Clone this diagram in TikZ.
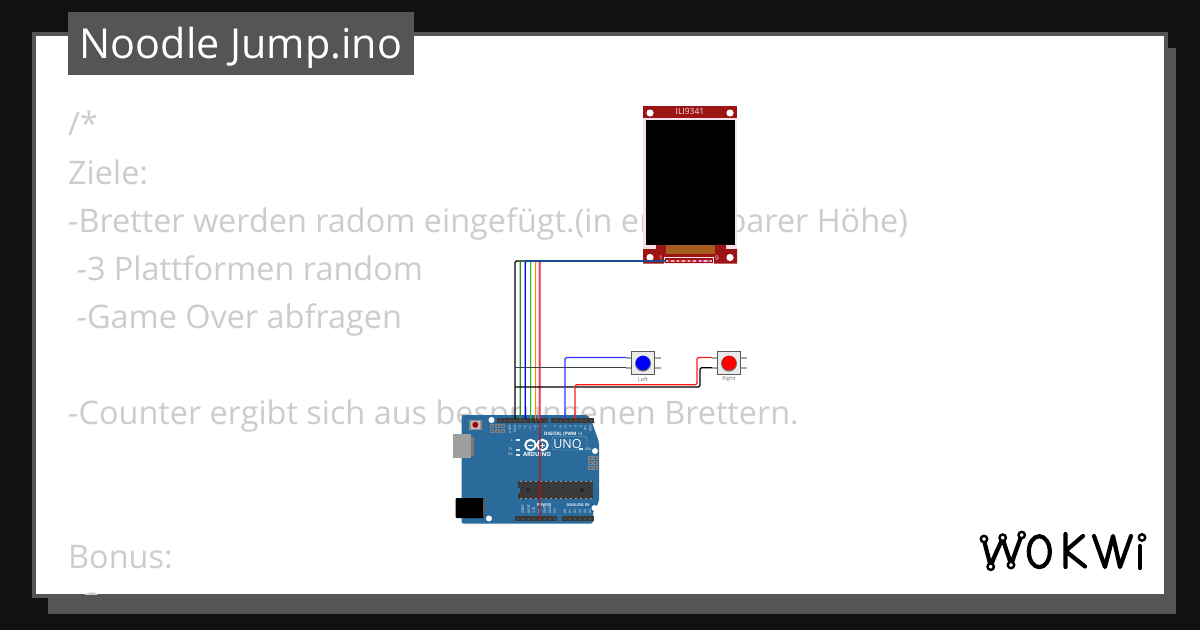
\documentclass[tikz,border=0pt]{standalone}
\usepackage{fontspec}
\setmainfont{Open Sans}
\usetikzlibrary{calc}
\definecolor{bgdark}{HTML}{111111}
\definecolor{framegray}{HTML}{555555}
\definecolor{bodygray}{HTML}{CCCCCC}
\definecolor{pcb}{HTML}{2B6B9B}
\definecolor{lcdred}{HTML}{9C1414}
\definecolor{lcdpink}{HTML}{F5DFEA}
\definecolor{lcdflex}{HTML}{A65C1C}
\definecolor{hdr}{HTML}{3A3A3A}
\definecolor{wgreen}{HTML}{1F8F1F}
\definecolor{wlime}{HTML}{2DB52D}
\definecolor{wdark}{HTML}{1B4A8C}
\tikzset{
  bodytext/.style={anchor=base west,inner sep=0,text=bodygray,font=\fontsize{32.4}{36}\selectfont},
  wire/.style={line width=1.2pt,rounded corners=1.5pt},
  lead/.style={draw=none,fill=black!35},
  btnbox/.style={fill=black!8,draw=black!65,line width=1.2pt},
  tinylbl/.style={inner sep=0,text=white!90!pcb,font=\fontsize{3.4}{3.4}\selectfont},
  pinlbl/.style={tinylbl,rotate=90,anchor=west},
  hole/.style={fill=white,draw=none},
  logo/.style={line width=4.2pt,line cap=round,line join=round,draw=black},
  logodot/.style={line width=2.4pt,draw=black,fill=white},
}
\begin{document}
\begin{tikzpicture}[x=1pt,y=-1pt]
\useasboundingbox (0,0) rectangle (1200,630);
\fill[bgdark] (0,0) rectangle (1200,630);
\fill[framegray] (48,48) rectangle (1176,614);
\fill[framegray] (32,32) rectangle (1168,598);
\fill[white] (36,36) rectangle (1164,594);
\begin{scope}
\clip (36,36) rectangle (1164,594);
\node[bodytext] (t1) at (68,135) {/*};
\node[bodytext] (t2) at (68,184) {Ziele:};
\node[bodytext] (t3) at (68,232) {-Bretter werden radom eingefügt.(in erreichbarer Höhe)};
\node[bodytext] (t4) at (68,280) { \ -3 Plattformen random};
\node[bodytext] (t5) at (68,328) { \ -Game Over abfragen};
\node[bodytext] (t6) at (68,424) {-Counter ergibt sich aus besprungenen Brettern.};
\node[bodytext] (t7) at (68,568) {Bonus:};
\node[bodytext] (t8) at (68,616) {-C};
\end{scope}
\fill[framegray] (68,12) rectangle (414,75);
\node[anchor=base west,inner sep=0,text=white,font=\fontsize{41.3}{44}\selectfont] (title) at (79.5,58.5) {Noodle Jump.ino};
% Display
\fill[lcdpink] (643,117) rectangle (737,250);
\fill[lcdred] (643,106) rectangle (737,117.5);
\fill[black] (646,120) rectangle (734.5,245);
\fill[lcdred] (656,245) rectangle (726,249) (643,249) rectangle (737,263.5);
\fill[lcdflex] (665.5,245) rectangle (714.5,254);
\foreach \p/\q in {650/113,730/113,650/257.5,730/257.5} \fill[hole] (\p,\q) circle (3.6);
\node[inner sep=0,text=lcdpink,font=\fontsize{8.5}{9}\selectfont] (lcdname) at (690,111.8) {ILI9341};
\node[inner sep=0,text=lcdpink,font=\fontsize{6.5}{7}\selectfont] (one) at (661,258.5) {1};
\node[inner sep=0,text=lcdpink,font=\fontsize{6.5}{7}\selectfont] (nine) at (717,258.5) {9};
\draw[lcdpink,line width=.7pt] (664,257.5) rectangle (713.5,263);
\coordinate (p1) at (666.5,261);
\coordinate (p2) at (672,261);
\coordinate (p3) at (678,261);
\coordinate (p4) at (684,261);
\coordinate (p5) at (690,261);
\coordinate (p6) at (695,261);
\coordinate (p7) at (700,261);
\coordinate (p8) at (705.5,261);
\coordinate (p9) at (711,261);
% Arduino board
\fill[pcb,rounded corners=2pt] (461.5,415) -- (588,415) -- (593,425) -- (599,442) -- (599,502) -- (593,512) -- (593,523.5) -- (461.5,523.5) -- cycle;
\fill[black!38] (453.3,434) rectangle (471,458);
\fill[black!52] (471,437) rectangle (474,456);
\fill[black,rounded corners=1pt] (455.7,498) rectangle (484,518);
\fill[black!65] (483,499) rectangle (485,517);
\fill[black!45] (469,419.5) rectangle (482,430);
\fill[black!25] (471,420.5) rectangle (480,429);
\fill[red!65!black] (475.3,424.8) circle (3);
\foreach \p/\q in {491.5/420,595/451,489/518.5,594.5/508} \fill[hole] (\p,\q) circle (3);
% headers
\fill[hdr] (496.7,418.3) rectangle (548,423);
\fill[hdr] (551,418.3) rectangle (594,423);
\fill[hdr] (515,516) rectangle (557,521);
\fill[hdr] (561.7,516) rectangle (593.5,521);
\foreach \p in {500,505,510,515,520,525,530.5,535.5,540,545.5,555.5,560.5,565.5,570.5,575.5,580.5,585.5,590.5}
  \fill[black!70] (\p-1,419.8) rectangle (\p+1,421.8);
\foreach \p in {518,523,529,534,539.5,544.7,550,554.7,565,570,575,580,585,590}
  \fill[black!70] (\p-1,517.5) rectangle (\p+1,519.5);
\foreach \p in {492,497.5,503} \foreach \q in {426,431} {\fill[black!45,opacity=.8] (\p-2.2,\q-2.2) rectangle (\p+2.2,\q+2.2);\fill[black!75] (\p,\q) circle (.9);}
\foreach \p in {590.5,595.5} \foreach \q in {458,463,468} {\fill[black!45,opacity=.8] (\p-2.2,\q-2.2) rectangle (\p+2.2,\q+2.2);\fill[black!75] (\p,\q) circle (.9);}
% chip
\fill[hdr] (517.7,481) rectangle (593.3,499.3);
\fill[pcb] (517.7,487.5) rectangle (519.5,492.5);
\foreach \p in {528,582} \fill[black!85] (\p,490) circle (2);
\foreach \p in {520,525,...,590} {\fill[black!40] (\p,481) rectangle (\p+2.4,482.4);\fill[black!40] (\p,497.9) rectangle (\p+2.4,499.3);}
% logo
\draw[white,line width=2pt] (530.5,445) circle (5.2) (542.5,445) circle (5.2);
\draw[white,line width=1pt] (528,445) -- (533,445) (540,445) -- (545,445) (542.5,442.5) -- (542.5,447.5);
\node[inner sep=0,text=white,font=\fontsize{5.8}{6}\selectfont\bfseries] (ard) at (537,454) {ARDUINO};
\draw[white!45!pcb,line width=.4pt,rounded corners=3pt] (552,436.5) -- (587,436.5) -- (587,450) -- (552,450) -- cycle;
\node[inner sep=0,text=white,font=\fontsize{12.5}{12}\selectfont] (uno) at (567.5,444) {UNO};
\node[inner sep=0,text=white,font=\fontsize{4.6}{5}\selectfont\bfseries] (dig) at (563,434) {DIGITAL (PWM \textasciitilde)};
\node[inner sep=0,text=white!85!pcb,font=\fontsize{4}{5}\selectfont\bfseries] (pow) at (544,505.5) {POWER};
\node[inner sep=0,text=white!85!pcb,font=\fontsize{4}{5}\selectfont\bfseries] (ana) at (578,505.5) {ANALOG IN};
\node[tinylbl] (ll) at (512,440) {L};
\node[tinylbl] (ltx) at (510.5,449.5) {TX};
\node[tinylbl] (lrx) at (510.5,454.5) {RX};
\node[tinylbl] (lon) at (588.5,449) {ON};
\foreach \p/\q in {518/440,518/449.5,518/454.5,581/449} \fill[white!85!pcb] (\p-2,\q-1) rectangle (\p+2,\q+1);
\foreach \p/\t in {510/AREF,515/GND,520/13,525/12,530.5/\textasciitilde 11,535.5/\textasciitilde 10,540/\textasciitilde 9,545.5/8,555.5/7,560.5/\textasciitilde 6,565.5/\textasciitilde 5,570.5/4,575.5/\textasciitilde 3,580.5/2,585.5/TX1,590.5/RX0}
  \node[pinlbl,anchor=east] at (\p,425) {\t};
\foreach \p/\t in {523/IOREF,529/RESET,534/3.3V,539.5/5V,544.7/GND,550/GND,554.7/Vin,565/A0,570/A1,575/A2,580/A3,585/A4,590/A5}
  \node[pinlbl] at (\p,514) {\t};
\coordinate (aGND) at (515,419);
\coordinate (a13) at (520.3,419);
\coordinate (a12) at (525.3,419);
\coordinate (a11) at (530.6,419);
\coordinate (a10) at (535.6,419);
\coordinate (a9) at (538.9,419);
\coordinate (a5V) at (540,519);
\coordinate (a5) at (565,419);
\coordinate (a3) at (575,419);
% Buttons
\node[btnbox,minimum width=23pt,minimum height=23pt,inner sep=0,outer sep=0] (bl) at (643,363) {};
\node[btnbox,minimum width=23pt,minimum height=23pt,inner sep=0,outer sep=0] (br) at (729,363) {};
\foreach \c in {bl,br} {
  \fill[lead] ($(\c)+(-17.5,-6.2)$) rectangle ($(\c)+(-12,-4.2)$);
  \fill[lead] ($(\c)+(-17.5,3.8)$) rectangle ($(\c)+(-12,5.8)$);
  \fill[lead] ($(\c)+(12,-6.2)$) rectangle ($(\c)+(18,-4.2)$);
  \fill[lead] ($(\c)+(12,3.8)$) rectangle ($(\c)+(18,5.8)$);
}
\fill[black!55] (643,363.6) circle (8);
\fill[blue] (643,363) circle (7.2);
\fill[black!55] (729,363.6) circle (8);
\fill[red] (729,363) circle (7.2);
\node[inner sep=0,text=black!55,font=\fontsize{5.5}{6}\selectfont] (ltxt) at (643,379) {Left};
\node[inner sep=0,text=black!55,font=\fontsize{5.5}{6}\selectfont] (rtxt) at (729,379) {Right};
\coordinate (bl1) at (626,357.5);
\coordinate (bl2) at (626,367.7);
\coordinate (br1) at (712,357.5);
\coordinate (br2) at (712,367.7);
% Wires
\draw[wire,black] (aGND) |- (p2);
\draw[wire,wgreen] (a13) |- (p3);
\draw[wire,blue] (a12) |- (p8);
\draw[wire,wlime] (a11) |- (p5);
\draw[wire,orange!95!yellow] (a10) |- (p6);
\draw[wire,magenta!50!white] (a9) |- (p9);
\draw[wire,red!85!black,opacity=.85] (a5V) |- (p7);
\draw[wdark,line width=1.3pt] ($(a12|-p1)$) -- (p1);
\foreach \p in {667,672.5,678,683.5,689,694.5,700,705.5,711}
  \fill[white,opacity=.65] (\p-1.2,259.6) rectangle (\p+1.2,262);
\draw[wire,black!75] (aGND|-bl2) -- (bl2);
\draw[wire,black] (aGND|-0,387) -- (700,387) |- (br2);
\draw[wire,blue!80!white] (a5) |- (bl1);
\draw[wire,red!90!white] (a3) |- (697,384.7) |- (br1);
% Wokwi logo
\draw[logo] (984,539) .. controls (986,550) and (989,558) .. (990.7,566.7) .. controls (994,556) and (999,547) .. (1002.7,538) .. controls (1005,548) and (1009,556) .. (1011,565) .. controls (1014,556) and (1018,545) .. (1021.7,535);
\foreach \p/\q in {984/539,1002.7/537.7,1021.7/535,990.7/566.7,1011/565} \draw[logodot] (\p,\q) circle (3.2);
\draw[logo] (1039.3,551.7) ellipse (10.5 and 15.5);
\draw[logo] (1065.5,534) -- (1065.5,567) (1083,536) -- (1065.5,551) -- (1085,566.5);
\draw[logo] (1094,536) -- (1105,567) -- (1113,536) -- (1120,567) -- (1131,536);
\draw[logo] (1140,546) -- (1140,568);
\draw[logodot] (1142,537.5) circle (3.2);
\end{tikzpicture}
\end{document}
